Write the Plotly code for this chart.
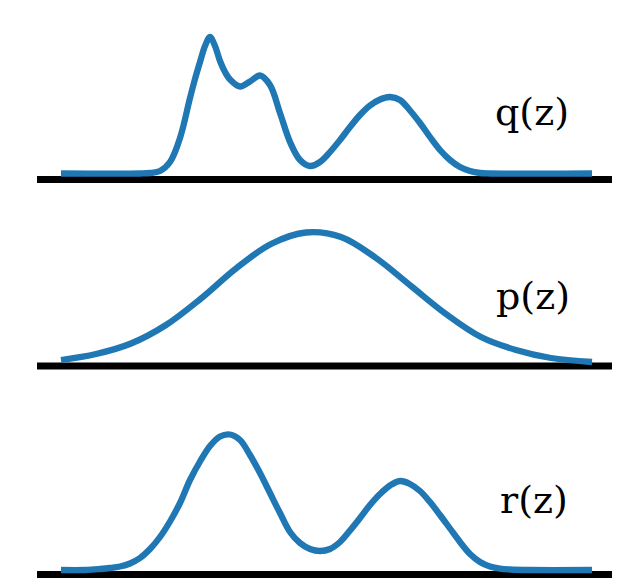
import plotly.graph_objects as go

# ---- data ----
q_z = [-2.64, -1.85, -1.75, -1.65, -1.55, -1.45, -1.35, -1.30, -1.25, -1.20, -1.15, -1.10,
       -1.05, -1.00, -0.95, -0.85, -0.75, -0.65, -0.55, -0.45, -0.35, -0.25, -0.15, -0.05,
       0.05, 0.15, 0.25, 0.35, 0.45, 0.55, 0.65, 0.75, 0.85, 0.95, 1.05, 1.15, 1.25, 1.35,
       1.45, 1.55, 1.65, 2.67]
q_d = [0.06, 0.06, 0.065, 0.085, 0.175, 0.415, 0.815, 1.005, 1.175, 1.335, 1.425, 1.335,
       1.185, 1.075, 1.0, 0.93, 0.98, 1.04, 0.945, 0.665, 0.375, 0.195, 0.135, 0.175,
       0.275, 0.395, 0.525, 0.645, 0.74, 0.80, 0.825, 0.795, 0.69, 0.565, 0.425, 0.295,
       0.195, 0.125, 0.085, 0.065, 0.06, 0.06]

p_z = [-2.64, -2.29, -1.94, -1.59, -1.24, -0.89, -0.54, -0.19, 0.16, 0.51, 0.86, 1.21,
       1.56, 1.91, 2.26, 2.67]
p_d = [0.06, 0.12, 0.225, 0.41, 0.675, 0.975, 1.22, 1.335, 1.29, 1.08, 0.80, 0.52,
       0.29, 0.16, 0.08, 0.04]

r_z = [-2.64, -2.40, -2.25, -2.15, -2.05, -1.95, -1.85, -1.75, -1.65, -1.55, -1.45, -1.35,
       -1.25, -1.15, -1.05, -0.95, -0.85, -0.75, -0.65, -0.55, -0.45, -0.35, -0.25, -0.15,
       -0.05, 0.05, 0.15, 0.25, 0.35, 0.45, 0.55, 0.65, 0.75, 0.85, 0.95, 1.05, 1.15, 1.25,
       1.35, 1.45, 1.55, 1.65, 1.75, 1.85, 2.05, 2.67]
r_d = [0.045, 0.045, 0.055, 0.065, 0.08, 0.11, 0.165, 0.255, 0.375, 0.53, 0.715, 0.945,
       1.13, 1.285, 1.38, 1.40, 1.345, 1.195, 1.015, 0.815, 0.615, 0.425, 0.315, 0.255,
       0.235, 0.255, 0.325, 0.44, 0.565, 0.695, 0.805, 0.89, 0.935, 0.905, 0.835, 0.725,
       0.595, 0.46, 0.325, 0.205, 0.125, 0.08, 0.058, 0.05, 0.045, 0.045]

labels = ["q(z)", "p(z)", "r(z)"]
label_pos = [(2.07, 0.675), (2.08, 0.70), (2.09, 0.745)]

# ---- styling / layout ----
BLUE = "#1f77b4"
PAGE_W, PAGE_H = 641, 585
OFF = 8                                 # default page body margin
W, H = PAGE_W - OFF, PAGE_H - OFF
baselines_px = [179.5, 366, 574.5]      # baseline rows on the page
PX_PER_UNIT = 100
X0_PX, PX_PER_Z = 325, 100

fig = go.Figure()
series = [(q_z, q_d), (p_z, p_d), (r_z, r_d)]
yrefs = ["y", "y2", "y3"]
for i, (zz, dd) in enumerate(series):
    fig.add_trace(go.Scatter(
        x=zz, y=dd, mode="lines", yaxis=yrefs[i],
        line=dict(color=BLUE, width=6.3, shape="spline", smoothing=1.0),
        hoverinfo="skip", showlegend=False))
    fig.add_shape(type="line", xref="x", yref=yrefs[i], x0=-2.88, x1=2.87, y0=0, y1=0,
                  line=dict(color="black", width=7), layer="below")
    fig.add_annotation(x=label_pos[i][0], y=label_pos[i][1], xref="x", yref=yrefs[i],
                       text=labels[i], showarrow=False,
                       font=dict(family="DejaVu Serif", size=38, color="black"),
                       xanchor="center", yanchor="middle")

def yr(yb):
    return [-(PAGE_H - yb) / PX_PER_UNIT, (yb - OFF) / PX_PER_UNIT]

axis_common = dict(visible=False, showgrid=False, zeroline=False, fixedrange=True)
fig.update_layout(
    width=W, height=H,
    margin=dict(l=0, r=0, t=0, b=0),
    paper_bgcolor="white", plot_bgcolor="white",
    xaxis=dict(range=[(OFF - X0_PX) / PX_PER_Z, (PAGE_W - X0_PX) / PX_PER_Z], domain=[0, 1],
               **axis_common),
    yaxis=dict(range=yr(baselines_px[0]), domain=[0, 1], **axis_common),
    yaxis2=dict(range=yr(baselines_px[1]), domain=[0, 1], overlaying="y", **axis_common),
    yaxis3=dict(range=yr(baselines_px[2]), domain=[0, 1], overlaying="y", **axis_common),
)

fig.write_html("out.html")
